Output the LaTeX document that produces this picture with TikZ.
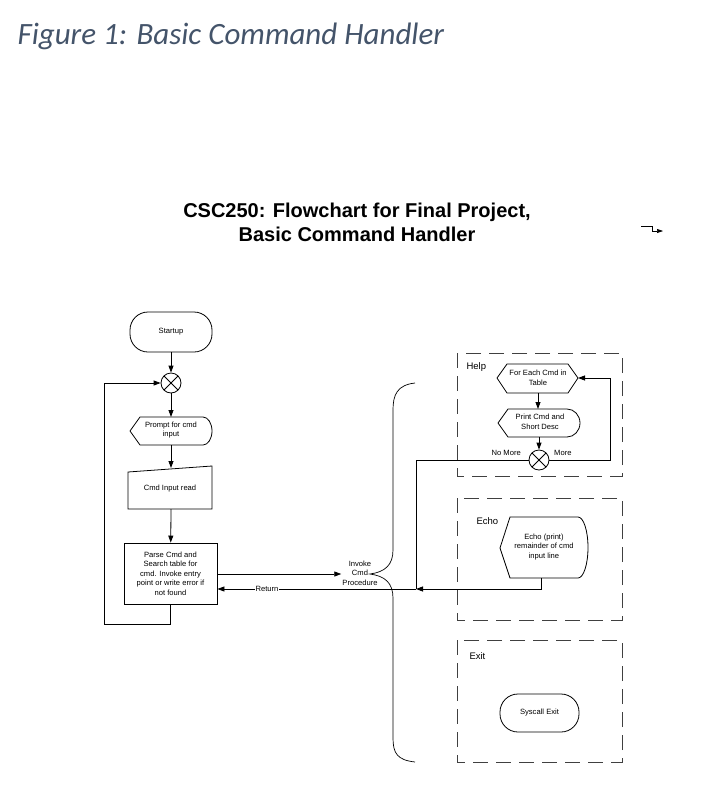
\documentclass[tikz,border=0pt]{standalone}
\usepackage{fontspec}
\setmainfont{Liberation Sans}
\newfontfamily\carl{Carlito}
\usetikzlibrary{arrows.meta,shapes.geometric}
\definecolor{titleblue}{HTML}{44546A}
\begin{document}
\begin{tikzpicture}[x=1pt,y=-1pt,
  lbl/.style={font=\fontsize{7.6}{9.5}\selectfont,align=center,inner sep=1pt},
  box/.style={lbl,draw,line width=0.8pt,minimum width=#1},
  term/.style={line width=0.8pt,rounded corners=18pt},
  ln/.style={line width=0.8pt},
  arr/.style={ln,-{Triangle[length=7pt,width=5pt]}},
  grp/.style={draw=black!75,line width=0.8pt,dash pattern=on 15pt off 8pt},
  xc/.style={circle,draw,line width=0.8pt,minimum size=20pt,inner sep=0pt,
    path picture={\draw (path picture bounding box.north west) -- (path picture bounding box.south east)
      (path picture bounding box.north east) -- (path picture bounding box.south west);}}]
\useasboundingbox (0,0) rectangle (705,807);
\node[anchor=west,text=titleblue,font=\carl\itshape\fontsize{31}{34}\selectfont] (fig) at (14,36) {Figure 1: Basic Command Handler};
\node[font=\bfseries\fontsize{20}{24}\selectfont,align=center] (ttl) at (357,222) {CSC250: Flowchart for Final Project,\\Basic Command Handler};
\coordinate (s0) at (641,226); \coordinate (s1) at (652,226); \coordinate (s2) at (652,231); \coordinate (s3) at (663,231);
\draw[ln,line width=0.6pt,-{Triangle[length=6pt,width=4pt]}] (s0) -- (s1) -- (s2) -- (s3);

% left column
\draw[term] (130,312) rectangle (212,352);
\node[lbl] (start) at (171,332) {Startup};
\coordinate (startB) at (171,352);
\node[xc] (x1) at (171,383) {};
\draw[ln] (140,417) -- (203,417) arc[start angle=-90,end angle=90,x radius=9,y radius=14] -- (140,445) -- (130,431) -- cycle;
\node[lbl] (prompt) at (171,430) {Prompt for cmd\\input};
\coordinate (promptT) at (171,417); \coordinate (promptB) at (171,445);
\draw[ln] (128,472) -- (212,466) -- (212,509) -- (128,509) -- cycle;
\node[lbl] (read) at (170,489) {Cmd Input read};
\coordinate (readT) at (171,468); \coordinate (readB) at (171,509);
\node[box=93pt,minimum height=61pt] (parse) at (170.5,573.5) {Parse Cmd and\\Search table for\\cmd. Invoke entry\\point or write error if\\not found};
\draw[arr] (startB) -- (x1);
\draw[arr] (x1) -- (promptT);
\draw[arr] (promptB) -- (readT);
\draw[arr] (readB) -- (parse);
\coordinate (l1) at (170,624); \coordinate (l2) at (104,624); \coordinate (l3) at (104,383);
\draw[arr] (parse.south -| l1) -- (l1) -- (l2) -- (l3) -- (x1.west);

% invoke / return
\node[lbl] (inv) at (360,573) {Invoke\\Cmd\\Procedure};
\draw[arr] (217,574) -- (inv.west |- 0,574);
\coordinate (ret) at (416,589);
\draw[arr] (ret) -- node[lbl,fill=white,pos=0.75] (retl) {Return} (parse.east |- ret);

% brace
\draw[ln,line width=0.7pt] (415,383) .. controls (397,385) and (393,395) .. (393,410) -- (393,550)
  .. controls (393,565) and (385,572) .. (370,574)
  .. controls (385,576) and (393,583) .. (393,598) -- (393,738)
  .. controls (393,753) and (397,760) .. (415,762);

% help
\draw[grp] (457,353) rectangle (622,476);
\node[anchor=west,font=\fontsize{9.5}{10}\selectfont] (help) at (463,367) {Help};
\draw[ln] (497,378) -- (507,364) -- (568,364) -- (578,378) -- (568,393) -- (507,393) -- cycle;
\node[lbl] (each) at (538,378) {For Each Cmd in\\Table};
\coordinate (eachR) at (578,378); \coordinate (eachB) at (538,393);
\draw[ln] (508,409) -- (567,409) arc[start angle=-90,end angle=90,x radius=13,y radius=14] -- (508,437) -- (498,423) -- cycle;
\node[lbl] (print) at (540,422) {Print Cmd and\\Short Desc};
\coordinate (printT) at (538,409); \coordinate (printB) at (539,437);
\node[xc] (x2) at (539,460) {};
\draw[arr] (eachB) -- (printT);
\draw[arr] (printB) -- (x2);
\node[lbl,anchor=east] (nomore) at (522,453) {No More};
\node[lbl,anchor=west] (more) at (553,453) {More};
\coordinate (m1) at (610,460); \coordinate (m2) at (610,378);
\draw[arr] (x2.east) -- (m1) -- (m2) -- (eachR);
\coordinate (n1) at (416,460);
\draw[ln] (x2.west) -- (n1) -- (ret);

% echo
\draw[grp] (457,498) rectangle (622,620);
\node[anchor=west,font=\fontsize{9.5}{10}\selectfont] (echo) at (473,521) {Echo};
\draw[ln] (510,517) -- (578,517) arc[start angle=-90,end angle=90,x radius=10,y radius=30.5] -- (510,578) -- (500,548) -- cycle;
\node[lbl] (echot) at (544,547) {Echo (print)\\remainder of cmd\\input line};
\coordinate (e1) at (541,578); \coordinate (e2) at (541,589);
\draw[arr] (e1) -- (e2) -- (ret);

% exit
\draw[grp] (457,640) rectangle (622,762);
\node[anchor=west,font=\fontsize{9.5}{10}\selectfont] (exit) at (466,656) {Exit};
\draw[term] (500,694) rectangle (579,732);
\node[lbl] (sys) at (539.5,713) {Syscall Exit};
\end{tikzpicture}
\end{document}
